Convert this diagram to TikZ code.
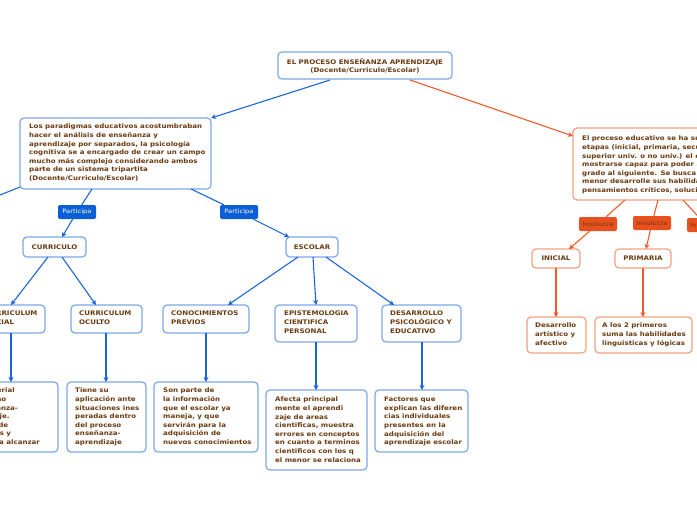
\documentclass[tikz,border=0pt]{standalone}
\usepackage{fontspec}
\setmainfont{DejaVu Sans}[FakeStretch=1.12]
\usetikzlibrary{arrows.meta}
\definecolor{txt}{HTML}{6B3A10}
\definecolor{bl}{HTML}{1A66D9}
\definecolor{blb}{HTML}{7AA8E8}
\definecolor{bf}{HTML}{0A5FD6}
\definecolor{orl}{HTML}{F05A28}
\definecolor{orb}{HTML}{F5A080}
\definecolor{orf}{HTML}{E8501E}
\tikzset{
 lab/.style={fill=bf,text=white,rounded corners=2pt,font=\fontsize{6}{7}\selectfont,minimum width=38pt,minimum height=14pt,inner sep=1pt},
 olab/.style={lab,fill=orf,text=txt},
 bc/.style={bl,line width=1.1pt},
 ba/.style={bc,-{Stealth[length=5pt,width=5pt]}},
 oc/.style={orl,line width=1.1pt},
 oa/.style={oc,-{Stealth[length=5pt,width=5pt]}},
 bb/.style={draw=blb,line width=1.2pt,rounded corners=4pt,fill=white},
 ob/.style={draw=orb,line width=1.2pt,rounded corners=4pt,fill=white},
 tx/.style={text=txt,font=\fontsize{6.3}{8.6}\selectfont\bfseries,align=left,anchor=north west,inner sep=0pt}
}
\begin{document}
\begin{tikzpicture}[x=1pt,y=-1pt]
\useasboundingbox (0,0) rectangle (697,520);
\clip (0,0) rectangle (697,520);
% top
\draw[bb] (278,52) rectangle (452,79);
\node[text=txt,font=\fontsize{6.3}{8}\selectfont\bfseries,align=center] (top) at (365,65.5) {EL PROCESO ENSEÑANZA APRENDIZAJE\\(Docente/Curriculo/Escolar)};
% left paragraph
\draw[bb] (20,118) rectangle (211,189);
\node[tx] (lp) at (29,124) {Los paradigmas educativos acostumbraban\\hacer el análisis de enseñanza y\\aprendizaje por separados, la psicología\\cognitiva se a encargado de crear un campo\\mucho más complejo considerando ambos\\parte de un sistema tripartita\\(Docente/Curriculo/Escolar)};
% right paragraph
\draw[ob] (573,128) rectangle (760,200);
\node[tx] (rp) at (582,136) {El proceso educativo se ha separado en\\etapas (inicial, primaria, secundaria,\\superior univ. o no univ.) el estudiante\\mostrarse capaz para poder avanzar de\\grado al siguiente. Se busca que el\\menor desarrolle sus habilidades y\\pensamientos críticos, solución de};
% level 2
\draw[bb] (23,237) rectangle (86,257); \node[tx,anchor=center] (cur) at (54.5,247) {CURRICULO};
\draw[bb] (286,237) rectangle (338,257); \node[tx,anchor=center] (esc) at (312,247) {ESCOLAR};
% level 3
\draw[bb] (-25,305) rectangle (45,333); \node[tx] (cs) at (-15,311) {CURRICULUM\\SOCIAL};
\draw[bb] (71,305) rectangle (142,333); \node[tx] (co) at (79,311) {CURRICULUM\\OCULTO};
\draw[bb] (163,305) rectangle (249,333); \node[tx] (cp) at (171,311) {CONOCIMIENTOS\\PREVIOS};
\draw[bb] (275,305) rectangle (357,342); \node[tx] (ep) at (284,311) {EPISTEMOLOGIA\\CIENTIFICA\\PERSONAL};
\draw[bb] (382,305) rectangle (461,342); \node[tx] (de) at (390,311) {DESARROLLO\\PSICOLÓGICO Y\\EDUCATIVO};
% level 4
\draw[bb] (-50,382) rectangle (58,452); \node[tx] (t1) at (-40,388) {Es el material\\del proceso\\de enseñanza-\\aprendizaje.\\Conjunto de\\contenidos y\\objetivos a alcanzar};
\draw[bb] (67,382) rectangle (146,452); \node[tx] (t2) at (75,388) {Tiene su\\aplicación ante\\situaciones ines\\peradas dentro\\del proceso\\enseñanza-\\aprendizaje};
\draw[bb] (154,382) rectangle (258,452); \node[tx] (t3) at (163,388) {Son parte de\\la información\\que el escolar ya\\maneja, y que\\servirán para la\\adquisición de\\nuevos conocimientos};
\draw[bb] (266,390) rectangle (367,470); \node[tx] (t4) at (275,397) {Afecta principal\\mente el aprendi\\zaje de areas\\cientificas, muestra\\errores en conceptos\\en cuanto a terminos\\cientificos con los q\\el menor se relaciona};
\draw[bb] (375,390) rectangle (468,452); \node[tx] (t5) at (384,397) {Factores que\\explican las diferen\\cias individuales\\presentes en la\\adquisición del\\aprendizaje escolar};
% right side
\draw[ob] (532,249) rectangle (580,268); \node[tx,anchor=center] (ini) at (556,258.5) {INICIAL};
\draw[ob] (615,249) rectangle (671,268); \node[tx,anchor=center] (pri) at (643,258.5) {PRIMARIA};
\draw[ob] (527,317) rectangle (586,353); \node[tx] (r1) at (535,323) {Desarrollo\\artístico y\\afectivo};
\draw[ob] (595,317) rectangle (692,353); \node[tx] (r2) at (602,323) {A los 2 primeros\\suma las habilidades\\linguisticas y lógicas};
% labels
\node[lab] (p1) at (77,212) {Participa};
\node[lab] (p2) at (239,212) {Participa};
\node[olab] (i1) at (598,224) {Involucra};
\node[olab] (i2) at (652,223) {Involucra};
\node[olab] (i3) at (706,225) {Involucra};
% connectors
\coordinate (a1) at (330,80); \coordinate (a2) at (211,118);
\draw[ba] (a1) -- (a2);
\coordinate (b1) at (410,80); \coordinate (b2) at (573,136);
\draw[oa] (b1) -- (b2);
\coordinate (c1) at (20,187); \coordinate (c2) at (-5,197);
\draw[bc] (c1) -- (c2);
\draw[bc] (92,189) -- (p1); \draw[ba] (p1) -- (62,237);
\draw[bc] (191,189) -- (p2); \draw[ba] (p2) -- (289,237);
\draw[ba] (48,257) -- (11,305);
\draw[ba] (62,257) -- (96,305);
\draw[ba] (298,257) -- (228,305);
\draw[ba] (313,257) -- (316,305);
\draw[ba] (326,257) -- (394,305);
\draw[ba] (11,333) -- (11,382);
\draw[ba] (106,333) -- (106,382);
\draw[ba] (206,333) -- (206,382);
\draw[ba] (316,342) -- (316,390);
\draw[ba] (422,342) -- (422,390);
\draw[oc] (625,200) -- (i1); \draw[oa] (i1) -- (569,249);
\draw[oc] (658,200) -- (i2); \draw[oa] (i2) -- (646,249);
\draw[oc] (683,200) -- (i3);
\draw[oa] (556,268) -- (556,317);
\draw[oa] (643,268) -- (643,317);
\end{tikzpicture}
\end{document}
